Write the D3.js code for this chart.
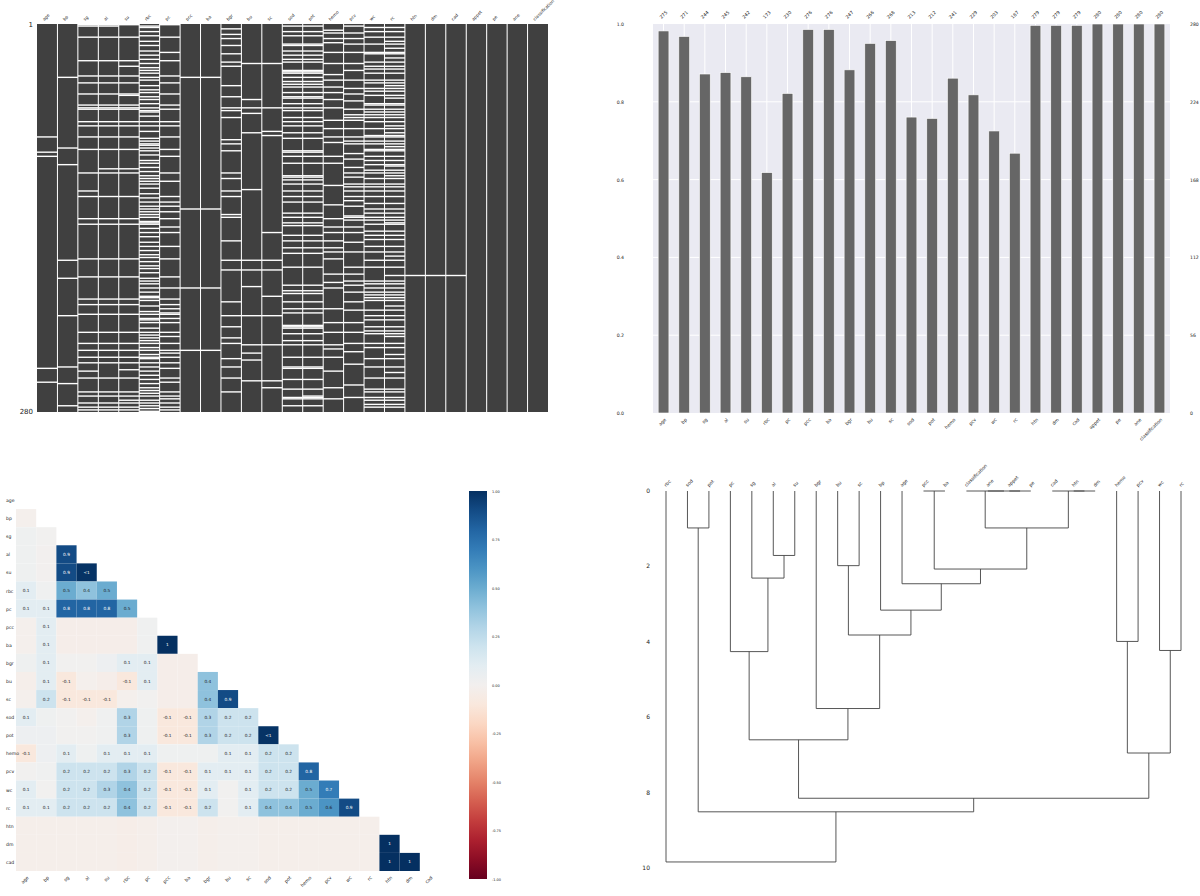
<!DOCTYPE html>
<html><head><meta charset="utf-8">
<script src="https://cdn.jsdelivr.net/npm/d3@7"></script>
<style>body{margin:0;background:#fff}svg{font-family:"DejaVu Sans",sans-serif;-webkit-font-smoothing:antialiased}</style>
</head><body><svg id="c" width="1200" height="896"></svg>
<script>
const columns = ["age","bp","sg","al","su","rbc","pc","pcc","ba","bgr","bu","sc","sod","pot","hemo","pcv","wc","rc","htn","dm","cad","appet","pe","ane","classification"];
const nRows = 280;
const counts = [275,271,244,245,242,173,230,276,276,247,266,268,213,212,241,229,203,187,279,279,279,280,280,280,280];

// missing row indices per column (matrix)
const sgMiss = [0,1,9,26,37,42,50,58,60,61,70,73,81,90,107,120,124,140,144,169,182,198,202,209,222,230,235,240,244,250,255,265,268,273,276,278];
const sodMiss = [1,5,8,14,15,19,22,25,27,33,34,35,38,41,43,45,49,52,53,57,60,62,67,70,73,78,82,91,92,95,100,109,110,112,115,120,124,128,136,139,143,145,152,156,161,165,175,188,192,194,200,205,208,217,218,219,223,228,231,240,247,248,256,263,269,270,275];
const wcMiss = [2,5,9,14,20,21,27,30,32,35,40,42,46,48,51,57,58,61,63,65,67,70,75,80,81,84,86,90,91,95,98,101,105,107,111,115,117,120,124,129,133,136,139,141,144,149,152,155,160,164,170,175,185,187,190,193,195,197,199,206,210,213,218,221,223,230,233,241,247,255,263,265,269,271,274,276];
const missing = {
  age: [81,92,95,248,258],
  bp: [38,89,101,170,183,210,247,259,275],
  sg: sgMiss,
  al: [0,1,9,26,37,42,50,58,60,61,70,73,81,90,104,107,124,140,144,169,182,198,202,209,222,230,235,240,244,255,265,268,273,276,278],
  su: [0,9,26,30,37,42,50,51,58,60,61,70,73,81,90,104,107,124,140,144,169,182,198,202,209,222,230,235,240,244,249,255,265,268,271,273,276,278],
  rbc: [1,5,8,12,15,19,22,25,28,31,33,35,38,40,44,47,49,52,54,57,60,62,66,70,73,77,82,84,86,89,91,94,98,100,103,106,109,111,113,115,118,122,125,128,131,133,135,137,139,142,143,147,150,153,157,160,163,166,168,171,174,176,179,183,185,187,190,193,196,199,203,207,209,212,213,215,219,222,226,228,230,233,235,238,240,244,247,250,253,256,259,262,264,266,268,271,273,275,277,279,2,63,87,144,197,224,241],
  pc: [0,9,20,26,37,42,50,58,61,70,73,81,90,95,107,113,124,128,131,135,140,146,150,160,169,182,190,198,202,205,208,209,212,215,222,225,230,235,237,240,244,248,255,258,265,268,270,273,276,278],
  pcc: [38,133,190,235],
  ba: [38,133,190,235],
  bgr: [3,7,10,15,21,27,30,44,52,60,62,67,83,86,91,107,111,120,124,137,139,156,170,177,200,210,218,226,230,241,247,255,265],
  bu: [28,54,60,64,78,119,170,177,189,210,231,237,242,257],
  sc: [28,60,77,80,150,170,177,196,210,231,257,262],
  sod: sodMiss,
  pot: sodMiss.concat([268]),
  hemo: [4,6,10,13,20,28,36,40,45,49,54,60,69,75,81,85,95,100,116,130,140,146,150,156,161,164,169,180,186,190,205,215,222,231,234,240,250,262,270],
  pcv: [1,6,10,14,20,28,33,40,46,50,55,61,65,67,69,75,81,84,86,93,97,103,107,110,115,117,120,124,127,131,138,139,141,146,150,157,164,175,180,185,188,193,200,206,215,222,230,236,245,260,269],
  wc: wcMiss,
  rc: wcMiss.concat([12,17,24,44,53,73,78,88,102,109,143,167,181,203,225,238,251]),
  htn: [181], dm: [181], cad: [181]
};

// nullity correlation (lower triangle)
const corrCols = ["age","bp","sg","al","su","rbc","pc","pcc","ba","bgr","bu","sc","sod","pot","hemo","pcv","wc","rc","htn","dm","cad"];
const corrRows = [
  [],
  [-0.02],
  [0.03,0.01],
  [0.03,0.0,0.9],
  [0.03,0.0,0.9,0.99],
  [0.1,0.02,0.5,0.4,0.5],
  [0.1,0.1,0.8,0.8,0.8,0.5],
  [-0.02,0.1,-0.04,-0.04,-0.04,-0.04,0.02],
  [-0.02,0.1,-0.04,-0.04,-0.04,-0.04,0.02,1],
  [0.03,0.1,0.01,0.01,0.04,0.1,0.1,-0.04,-0.04],
  [-0.03,0.1,-0.1,-0.02,-0.04,-0.1,0.1,-0.04,-0.04,0.4],
  [-0.02,0.2,-0.1,-0.1,-0.1,-0.02,0.01,-0.04,-0.04,0.4,0.9],
  [0.1,0.03,0.01,-0.02,0.02,0.3,0.03,-0.1,-0.1,0.3,0.2,0.2],
  [0.04,0.04,0.01,0.01,0.02,0.3,0.03,-0.1,-0.1,0.3,0.2,0.2,0.99],
  [-0.1,0.04,0.1,0.03,0.1,0.1,0.1,0.03,0.03,0.03,0.1,0.1,0.2,0.2],
  [0.01,0.02,0.2,0.2,0.2,0.3,0.2,-0.1,-0.1,0.1,0.1,0.1,0.2,0.2,0.8],
  [0.1,0.01,0.2,0.2,0.3,0.4,0.2,-0.1,-0.1,0.1,0.01,0.1,0.2,0.2,0.5,0.7],
  [0.1,0.1,0.2,0.2,0.2,0.4,0.2,-0.1,-0.1,0.2,0.01,0.1,0.4,0.4,0.5,0.6,0.9],
  [-0.03,-0.03,-0.03,-0.03,-0.03,-0.045,-0.03,-0.01,-0.01,-0.03,-0.02,-0.02,-0.03,-0.03,-0.03,-0.03,-0.03,-0.03],
  [-0.03,-0.03,-0.03,-0.03,-0.03,-0.045,-0.03,-0.01,-0.01,-0.03,-0.02,-0.02,-0.03,-0.03,-0.03,-0.03,-0.03,-0.03,1],
  [-0.03,-0.03,-0.03,-0.03,-0.03,-0.045,-0.03,-0.01,-0.01,-0.03,-0.02,-0.02,-0.03,-0.03,-0.03,-0.03,-0.03,-0.03,1,1]
];
const cbarTicks = [1,0.75,0.5,0.25,0,-0.25,-0.5,-0.75,-1];

// dendrogram
const leaves = ["rbc","sod","pot","pc","sg","al","su","bgr","bu","sc","bp","age","pcc","ba","classification","ane","appet","pe","cad","htn","dm","hemo","pcv","wc","rc"];
const linkage = [
  [19,20,0],[18,25,0],[16,17,0],[15,27,0],[14,28,0],[12,13,0],
  [1,2,0.98],[29,26,0.98],[5,6,1.71],[8,9,1.98],[30,32,2.07],[4,33,2.31],
  [11,35,2.46],[10,37,3.16],[34,38,3.82],[21,22,3.99],[23,24,4.23],[3,36,4.26],
  [7,39,5.77],[42,43,6.6],[40,41,6.95],[44,45,8.15],[31,46,8.51],[0,47,9.84]
];
const dendTicks = [0,2,4,6,8,10];

const svg = d3.select("#c");
const fs = 4.6;
const ink = "#222";

// ---- matrix ----
(function () {
  const x = d3.scaleBand().domain(columns).range([37, 548]);
  const y = d3.scaleLinear().domain([0, nRows]).range([24, 412]);
  const g = svg.append("g");
  g.selectAll("rect.col").data(columns).join("rect")
    .attr("x", d => x(d)).attr("y", y(0))
    .attr("width", x.bandwidth()).attr("height", y(nRows) - y(0))
    .attr("fill", "#404040");
  columns.forEach(c => {
    g.selectAll(null).data(missing[c] || []).join("rect")
      .attr("x", x(c)).attr("y", d => y(d))
      .attr("width", x.bandwidth()).attr("height", y(1) - y(0))
      .attr("fill", "#fff");
  });
  g.selectAll("line.sep").data(columns.slice(1)).join("line")
    .attr("x1", d => x(d)).attr("x2", d => x(d))
    .attr("y1", y(0)).attr("y2", y(nRows))
    .attr("stroke", "#fff").attr("stroke-width", 1);
  g.selectAll("text.lab").data(columns).join("text")
    .attr("transform", d => `translate(${x(d) + x.bandwidth() / 2 - 3},21) rotate(-45)`)
    .attr("font-size", 4.3).attr("fill", ink).text(d => d);
  g.append("text").attr("x", 33).attr("y", 27).attr("text-anchor", "end").attr("font-size", 7).attr("fill", ink).text("1");
  g.append("text").attr("x", 33).attr("y", 414).attr("text-anchor", "end").attr("font-size", 7).attr("fill", ink).text(String(nRows));
})();

// ---- bar ----
(function () {
  const x = d3.scaleBand().domain(columns).range([653, 1170]).paddingInner(0.48).paddingOuter(0.25);
  const y = d3.scaleLinear().domain([0, 1]).range([413, 24]);
  const yR = d3.scaleLinear().domain([0, nRows]).range([413, 24]);
  const g = svg.append("g");
  g.append("rect").attr("x", 653).attr("y", 24).attr("width", 517).attr("height", 389).attr("fill", "#eaeaf2");
  g.selectAll("line.gy").data([0.2, 0.4, 0.6, 0.8]).join("line")
    .attr("x1", 653).attr("x2", 1170).attr("y1", d => y(d)).attr("y2", d => y(d)).attr("stroke", "#fff");
  g.selectAll("line.gx").data(columns).join("line")
    .attr("x1", d => x(d) + x.bandwidth() / 2).attr("x2", d => x(d) + x.bandwidth() / 2)
    .attr("y1", 24).attr("y2", 413).attr("stroke", "#fff");
  g.selectAll("rect.bar").data(columns).join("rect")
    .attr("x", d => x(d)).attr("width", x.bandwidth())
    .attr("y", (d, i) => yR(counts[i])).attr("height", (d, i) => 413 - yR(counts[i]))
    .attr("fill", "#666").attr("stroke", "#fff").attr("stroke-width", 0.6);
  g.selectAll("text.yl").data(d3.range(0, 1.01, 0.2)).join("text")
    .attr("x", 624).attr("y", d => y(d) + 2).attr("text-anchor", "end").attr("font-size", fs).attr("fill", ink)
    .text(d => d.toFixed(1));
  g.selectAll("text.yr").data([0, 56, 112, 168, 224, 280]).join("text")
    .attr("x", 1190).attr("y", d => yR(d) + 2).attr("font-size", fs).attr("fill", ink).text(d => d);
  g.selectAll("text.cnt").data(columns).join("text")
    .attr("transform", d => `translate(${x(d) + x.bandwidth() / 2 - 2},19) rotate(-45)`)
    .attr("font-size", fs).attr("fill", ink).text((d, i) => counts[i]);
  g.selectAll("text.xl").data(columns).join("text")
    .attr("transform", d => `translate(${x(d) + x.bandwidth() / 2 + 3},420) rotate(-45)`)
    .attr("text-anchor", "end").attr("font-size", fs).attr("fill", ink).text(d => d);
})();

// ---- heatmap ----
(function () {
  const x = d3.scaleBand().domain(corrCols).range([16, 440]);
  const y = d3.scaleBand().domain(corrCols).range([491, 871]);
  const color = v => d3.interpolateRdBu((v + 1) / 2);
  const label = v => v === 1 ? "1" : v >= 0.95 ? "<1" : Math.abs(v) < 0.05 ? "" : v.toFixed(1);
  const g = svg.append("g");
  const cells = [];
  corrRows.forEach((row, i) => row.forEach((v, j) => cells.push({ r: corrCols[i], c: corrCols[j], v })));
  g.selectAll("rect").data(cells).join("rect")
    .attr("x", d => x(d.c)).attr("y", d => y(d.r))
    .attr("width", x.bandwidth()).attr("height", y.bandwidth())
    .attr("fill", d => color(d.v));
  g.selectAll("text.v").data(cells).join("text")
    .attr("x", d => x(d.c) + x.bandwidth() / 2).attr("y", d => y(d.r) + y.bandwidth() / 2 + 1.5)
    .attr("text-anchor", "middle").attr("font-size", 4.3)
    .attr("fill", d => Math.abs(d.v) > 0.6 ? "#fff" : ink).text(d => label(d.v));
  g.selectAll("text.rl").data(corrCols).join("text")
    .attr("x", 6).attr("y", d => y(d) + y.bandwidth() / 2 + 2).attr("font-size", fs).attr("fill", ink).text(d => d);
  g.selectAll("text.cl").data(corrCols).join("text")
    .attr("transform", d => `translate(${x(d) + x.bandwidth() / 2 + 3},878) rotate(-45)`)
    .attr("text-anchor", "end").attr("font-size", fs).attr("fill", ink).text(d => d);
  // colorbar
  const cy = d3.scaleLinear().domain([1, -1]).range([491, 879]);
  const defs = svg.append("defs");
  const grad = defs.append("linearGradient").attr("id", "cb").attr("x1", 0).attr("x2", 0).attr("y1", 0).attr("y2", 1);
  d3.range(0, 1.001, 0.05).forEach(t => grad.append("stop").attr("offset", t).attr("stop-color", color(1 - 2 * t)));
  g.append("rect").attr("x", 469).attr("y", 491).attr("width", 18).attr("height", 388).attr("fill", "url(#cb)");
  g.selectAll("text.cb").data(cbarTicks).join("text")
    .attr("x", 492).attr("y", d => cy(d) + 1.5).attr("font-size", 3.5).attr("fill", ink).text(d => d.toFixed(2));
})();

// ---- dendrogram ----
(function () {
  const x = d3.scaleLinear().domain([0, leaves.length - 1]).range([666, 1181]);
  const y = d3.scaleLinear().domain([0, 10]).range([491, 868]);
  const nodes = leaves.map((d, i) => ({ x: i, h: 0 }));
  const g = svg.append("g");
  linkage.forEach(([a, b, h]) => {
    const A = nodes[a], B = nodes[b];
    g.append("path")
      .attr("d", d3.line()([[x(A.x), y(A.h)], [x(A.x), y(h)], [x(B.x), y(h)], [x(B.x), y(B.h)]]))
      .attr("fill", "none").attr("stroke", "#444").attr("stroke-width", 0.9);
    nodes.push({ x: (A.x + B.x) / 2, h });
  });
  g.selectAll("text.l").data(leaves).join("text")
    .attr("transform", (d, i) => `translate(${x(i)},487) rotate(-45)`)
    .attr("font-size", fs).attr("fill", ink).text(d => d);
  g.selectAll("text.t").data(dendTicks).join("text")
    .attr("x", 650).attr("y", d => y(d) + 2).attr("text-anchor", "end").attr("font-size", 6).attr("fill", ink).text(d => d);
})();
</script></body></html>
